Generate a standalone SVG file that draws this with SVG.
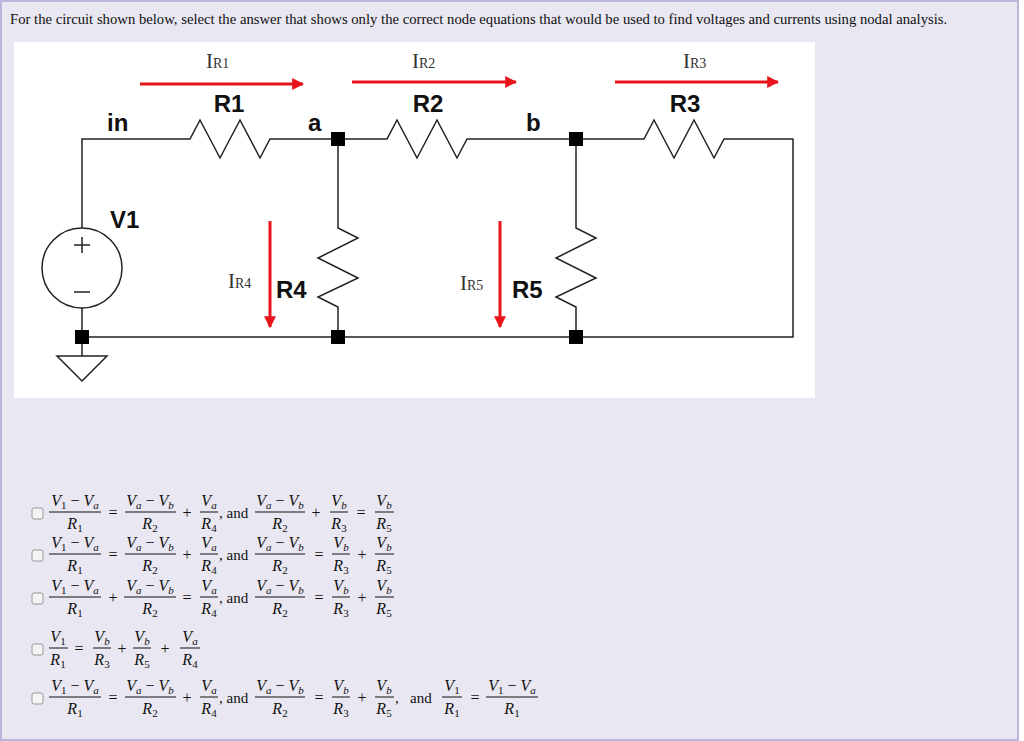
<svg xmlns="http://www.w3.org/2000/svg" width="1024" height="741" viewBox="0 0 1024 741">
<style>
.w{fill:none;stroke:#222;stroke-width:1.5}
.r{stroke:#e8141b;stroke-width:3;fill:none}
.nd{fill:#000}
.lb{font-family:"Liberation Sans",Arial,sans-serif;font-weight:bold;font-size:24px;fill:#111}
.cl{font-family:"Liberation Serif",serif;font-size:21px;fill:#333}
.cs{font-size:14px}
.m{font-family:"Liberation Serif",serif;font-size:16px;font-style:italic;fill:#111;text-anchor:middle}
.o{font-family:"Liberation Serif",serif;font-size:16px;fill:#111;text-anchor:middle}
.t{font-family:"Liberation Serif",serif;font-size:15px;fill:#111}
.h{font-family:"Liberation Serif",serif;font-size:14.7px;fill:#111}
.s{font-style:normal;font-size:11px}
.si{font-size:11px}
.n{font-style:normal}
.fl{stroke:#111;stroke-width:1}
.cb{fill:#f4f4f4;stroke:#999;stroke-width:1}
</style>
<defs>
<marker id="ah" viewBox="0 0 10 10" refX="9" refY="5" markerWidth="4" markerHeight="4" orient="auto"><path d="M0,0L10,5L0,10z" fill="#e8141b"/></marker>
</defs>
<rect x="1" y="1" width="1017" height="739" fill="#e9e7f1" stroke="#b9b7dc" stroke-width="2"/>
<text class="h" x="10" y="24">For the circuit shown below, select the answer that shows only the correct node equations that would be used to find voltages and currents using nodal analysis.</text>
<rect x="14" y="42" width="801" height="356" fill="#fff"/>
<g id="connectors">
<path class="w" d="M82,228V139H190L200,120L220,158L240,120L260,158L270,139H387L397,120L417,158L437,120L457,158L467,139H644L654,120L674,158L694,120L714,158L724,139H793V337H82V308"/>
<path class="w" d="M338,139V228L358,238L318,258L358,278L318,297L338,307V337"/>
<path class="w" d="M576,139V228L596,238L556,258L596,278L556,297L576,307V337"/>
<path class="r" d="M140,84H303" marker-end="url(#ah)"/>
<path class="r" d="M352,82H516" marker-end="url(#ah)"/>
<path class="r" d="M615,82H778" marker-end="url(#ah)"/>
<path class="r" d="M270,221V327" marker-end="url(#ah)"/>
<path class="r" d="M500,221V327" marker-end="url(#ah)"/>
</g>
<g id="V1"><circle class="w" cx="82" cy="268" r="40"/><path class="w" d="M74,245H90M82,237V253M74,292H90"/><text class="lb" x="110" y="228">V1</text></g>
<g id="ground"><rect class="nd" x="75" y="330" width="14" height="14"/><path class="w" d="M82,344V356M57,356H107L82,381Z"/></g>
<g id="node-a"><rect class="nd" x="331" y="132" width="14" height="14"/><rect class="nd" x="331" y="330" width="14" height="14"/><text class="lb" x="308" y="131">a</text></g>
<g id="node-b"><rect class="nd" x="569" y="132" width="14" height="14"/><rect class="nd" x="569" y="330" width="14" height="14"/><text class="lb" x="526" y="131">b</text></g>
<g id="in"><text class="lb" x="107" y="131">in</text></g>
<g id="R1"><text class="lb" x="229" y="112" text-anchor="middle">R1</text><text class="cl" x="206" y="68">I<tspan class="cs">R1</tspan></text></g>
<g id="R2"><text class="lb" x="428" y="112" text-anchor="middle">R2</text><text class="cl" x="412" y="68">I<tspan class="cs">R2</tspan></text></g>
<g id="R3"><text class="lb" x="685" y="112" text-anchor="middle">R3</text><text class="cl" x="683" y="68">I<tspan class="cs">R3</tspan></text></g>
<g id="R4"><text class="lb" x="276" y="298">R4</text><text class="cl" x="228" y="288">I<tspan class="cs">R4</tspan></text></g>
<g id="R5"><text class="lb" x="512" y="298">R5</text><text class="cl" x="460" y="290">I<tspan class="cs">R5</tspan></text></g>

<g id="answers">
<!-- row 1 -->
<rect class="cb" x="32" y="508" width="11" height="11" rx="2"/>
<text class="m" x="75" y="506">V<tspan class="s" dy="3">1</tspan><tspan class="n" dy="-3"> − </tspan>V<tspan class="si" dy="3">a</tspan></text><line class="fl" x1="49" y1="512" x2="101" y2="512"/><text class="m" x="75" y="529">R<tspan class="s" dy="3">1</tspan></text>
<text class="o" x="113" y="518">=</text>
<text class="m" x="150" y="506">V<tspan class="si" dy="3">a</tspan><tspan class="n" dy="-3"> − </tspan>V<tspan class="si" dy="3">b</tspan></text><line class="fl" x1="125" y1="512" x2="176" y2="512"/><text class="m" x="150" y="529">R<tspan class="s" dy="3">2</tspan></text>
<text class="o" x="187" y="518">+</text>
<text class="m" x="209" y="506">V<tspan class="si" dy="3">a</tspan></text><line class="fl" x1="200" y1="512" x2="218" y2="512"/><text class="m" x="209" y="529">R<tspan class="s" dy="3">4</tspan></text>
<text class="t" x="219" y="518">, and</text>
<text class="m" x="280" y="506">V<tspan class="si" dy="3">a</tspan><tspan class="n" dy="-3"> − </tspan>V<tspan class="si" dy="3">b</tspan></text><line class="fl" x1="255" y1="512" x2="305" y2="512"/><text class="m" x="280" y="529">R<tspan class="s" dy="3">2</tspan></text>
<text class="o" x="316" y="518">+</text>
<text class="m" x="339" y="506">V<tspan class="si" dy="3">b</tspan></text><line class="fl" x1="330" y1="512" x2="348" y2="512"/><text class="m" x="339" y="529">R<tspan class="s" dy="3">3</tspan></text>
<text class="o" x="361" y="518">=</text>
<text class="m" x="384" y="506">V<tspan class="si" dy="3">b</tspan></text><line class="fl" x1="375" y1="512" x2="394" y2="512"/><text class="m" x="384" y="529">R<tspan class="s" dy="3">5</tspan></text>
<!-- row 2 -->
<rect class="cb" x="32" y="550" width="11" height="11" rx="2"/>
<text class="m" x="75" y="548">V<tspan class="s" dy="3">1</tspan><tspan class="n" dy="-3"> − </tspan>V<tspan class="si" dy="3">a</tspan></text><line class="fl" x1="49" y1="554" x2="101" y2="554"/><text class="m" x="75" y="571">R<tspan class="s" dy="3">1</tspan></text>
<text class="o" x="113" y="560">=</text>
<text class="m" x="150" y="548">V<tspan class="si" dy="3">a</tspan><tspan class="n" dy="-3"> − </tspan>V<tspan class="si" dy="3">b</tspan></text><line class="fl" x1="125" y1="554" x2="176" y2="554"/><text class="m" x="150" y="571">R<tspan class="s" dy="3">2</tspan></text>
<text class="o" x="187" y="560">+</text>
<text class="m" x="209" y="548">V<tspan class="si" dy="3">a</tspan></text><line class="fl" x1="200" y1="554" x2="218" y2="554"/><text class="m" x="209" y="571">R<tspan class="s" dy="3">4</tspan></text>
<text class="t" x="219" y="560">, and</text>
<text class="m" x="280" y="548">V<tspan class="si" dy="3">a</tspan><tspan class="n" dy="-3"> − </tspan>V<tspan class="si" dy="3">b</tspan></text><line class="fl" x1="255" y1="554" x2="305" y2="554"/><text class="m" x="280" y="571">R<tspan class="s" dy="3">2</tspan></text>
<text class="o" x="319" y="560">=</text>
<text class="m" x="341" y="548">V<tspan class="si" dy="3">b</tspan></text><line class="fl" x1="332" y1="554" x2="350" y2="554"/><text class="m" x="341" y="571">R<tspan class="s" dy="3">3</tspan></text>
<text class="o" x="362" y="560">+</text>
<text class="m" x="384" y="548">V<tspan class="si" dy="3">b</tspan></text><line class="fl" x1="375" y1="554" x2="394" y2="554"/><text class="m" x="384" y="571">R<tspan class="s" dy="3">5</tspan></text>
<!-- row 3 -->
<rect class="cb" x="32" y="593" width="11" height="11" rx="2"/>
<text class="m" x="75" y="591">V<tspan class="s" dy="3">1</tspan><tspan class="n" dy="-3"> − </tspan>V<tspan class="si" dy="3">a</tspan></text><line class="fl" x1="49" y1="597" x2="101" y2="597"/><text class="m" x="75" y="614">R<tspan class="s" dy="3">1</tspan></text>
<text class="o" x="113" y="603">+</text>
<text class="m" x="150" y="591">V<tspan class="si" dy="3">a</tspan><tspan class="n" dy="-3"> − </tspan>V<tspan class="si" dy="3">b</tspan></text><line class="fl" x1="124" y1="597" x2="176" y2="597"/><text class="m" x="150" y="614">R<tspan class="s" dy="3">2</tspan></text>
<text class="o" x="187" y="603">=</text>
<text class="m" x="209" y="591">V<tspan class="si" dy="3">a</tspan></text><line class="fl" x1="200" y1="597" x2="218" y2="597"/><text class="m" x="209" y="614">R<tspan class="s" dy="3">4</tspan></text>
<text class="t" x="219" y="603">, and</text>
<text class="m" x="280" y="591">V<tspan class="si" dy="3">a</tspan><tspan class="n" dy="-3"> − </tspan>V<tspan class="si" dy="3">b</tspan></text><line class="fl" x1="255" y1="597" x2="305" y2="597"/><text class="m" x="280" y="614">R<tspan class="s" dy="3">2</tspan></text>
<text class="o" x="319" y="603">=</text>
<text class="m" x="341" y="591">V<tspan class="si" dy="3">b</tspan></text><line class="fl" x1="332" y1="597" x2="350" y2="597"/><text class="m" x="341" y="614">R<tspan class="s" dy="3">3</tspan></text>
<text class="o" x="362" y="603">+</text>
<text class="m" x="384" y="591">V<tspan class="si" dy="3">b</tspan></text><line class="fl" x1="375" y1="597" x2="394" y2="597"/><text class="m" x="384" y="614">R<tspan class="s" dy="3">5</tspan></text>
<!-- row 4 -->
<rect class="cb" x="32" y="644" width="11" height="11" rx="2"/>
<text class="m" x="58" y="642">V<tspan class="s" dy="3">1</tspan></text><line class="fl" x1="49" y1="648" x2="68" y2="648"/><text class="m" x="58" y="665">R<tspan class="s" dy="3">1</tspan></text>
<text class="o" x="79" y="654">=</text>
<text class="m" x="102" y="642">V<tspan class="si" dy="3">b</tspan></text><line class="fl" x1="93" y1="648" x2="111" y2="648"/><text class="m" x="102" y="665">R<tspan class="s" dy="3">3</tspan></text>
<text class="o" x="122" y="654">+</text>
<text class="m" x="142" y="642">V<tspan class="si" dy="3">b</tspan></text><line class="fl" x1="133" y1="648" x2="151" y2="648"/><text class="m" x="142" y="665">R<tspan class="s" dy="3">5</tspan></text>
<text class="o" x="165" y="654">+</text>
<text class="m" x="190" y="642">V<tspan class="si" dy="3">a</tspan></text><line class="fl" x1="180" y1="648" x2="200" y2="648"/><text class="m" x="190" y="665">R<tspan class="s" dy="3">4</tspan></text>
<!-- row 5 -->
<rect class="cb" x="32" y="693" width="11" height="11" rx="2"/>
<text class="m" x="75" y="691">V<tspan class="s" dy="3">1</tspan><tspan class="n" dy="-3"> − </tspan>V<tspan class="si" dy="3">a</tspan></text><line class="fl" x1="49" y1="697" x2="101" y2="697"/><text class="m" x="75" y="714">R<tspan class="s" dy="3">1</tspan></text>
<text class="o" x="113" y="703">=</text>
<text class="m" x="150" y="691">V<tspan class="si" dy="3">a</tspan><tspan class="n" dy="-3"> − </tspan>V<tspan class="si" dy="3">b</tspan></text><line class="fl" x1="125" y1="697" x2="176" y2="697"/><text class="m" x="150" y="714">R<tspan class="s" dy="3">2</tspan></text>
<text class="o" x="187" y="703">+</text>
<text class="m" x="209" y="691">V<tspan class="si" dy="3">a</tspan></text><line class="fl" x1="200" y1="697" x2="218" y2="697"/><text class="m" x="209" y="714">R<tspan class="s" dy="3">4</tspan></text>
<text class="t" x="219" y="703">, and</text>
<text class="m" x="280" y="691">V<tspan class="si" dy="3">a</tspan><tspan class="n" dy="-3"> − </tspan>V<tspan class="si" dy="3">b</tspan></text><line class="fl" x1="255" y1="697" x2="305" y2="697"/><text class="m" x="280" y="714">R<tspan class="s" dy="3">2</tspan></text>
<text class="o" x="319" y="703">=</text>
<text class="m" x="341" y="691">V<tspan class="si" dy="3">b</tspan></text><line class="fl" x1="332" y1="697" x2="350" y2="697"/><text class="m" x="341" y="714">R<tspan class="s" dy="3">3</tspan></text>
<text class="o" x="362" y="703">+</text>
<text class="m" x="384" y="691">V<tspan class="si" dy="3">b</tspan></text><line class="fl" x1="375" y1="697" x2="394" y2="697"/><text class="m" x="384" y="714">R<tspan class="s" dy="3">5</tspan></text>
<text class="t" x="395" y="703">,</text>
<text class="t" x="410" y="703">and</text>
<text class="m" x="452" y="691">V<tspan class="s" dy="3">1</tspan></text><line class="fl" x1="442" y1="697" x2="462" y2="697"/><text class="m" x="452" y="714">R<tspan class="s" dy="3">1</tspan></text>
<text class="o" x="475" y="703">=</text>
<text class="m" x="512" y="691">V<tspan class="s" dy="3">1</tspan><tspan class="n" dy="-3"> − </tspan>V<tspan class="si" dy="3">a</tspan></text><line class="fl" x1="486" y1="697" x2="538" y2="697"/><text class="m" x="512" y="714">R<tspan class="s" dy="3">1</tspan></text>
</g>
</svg>
